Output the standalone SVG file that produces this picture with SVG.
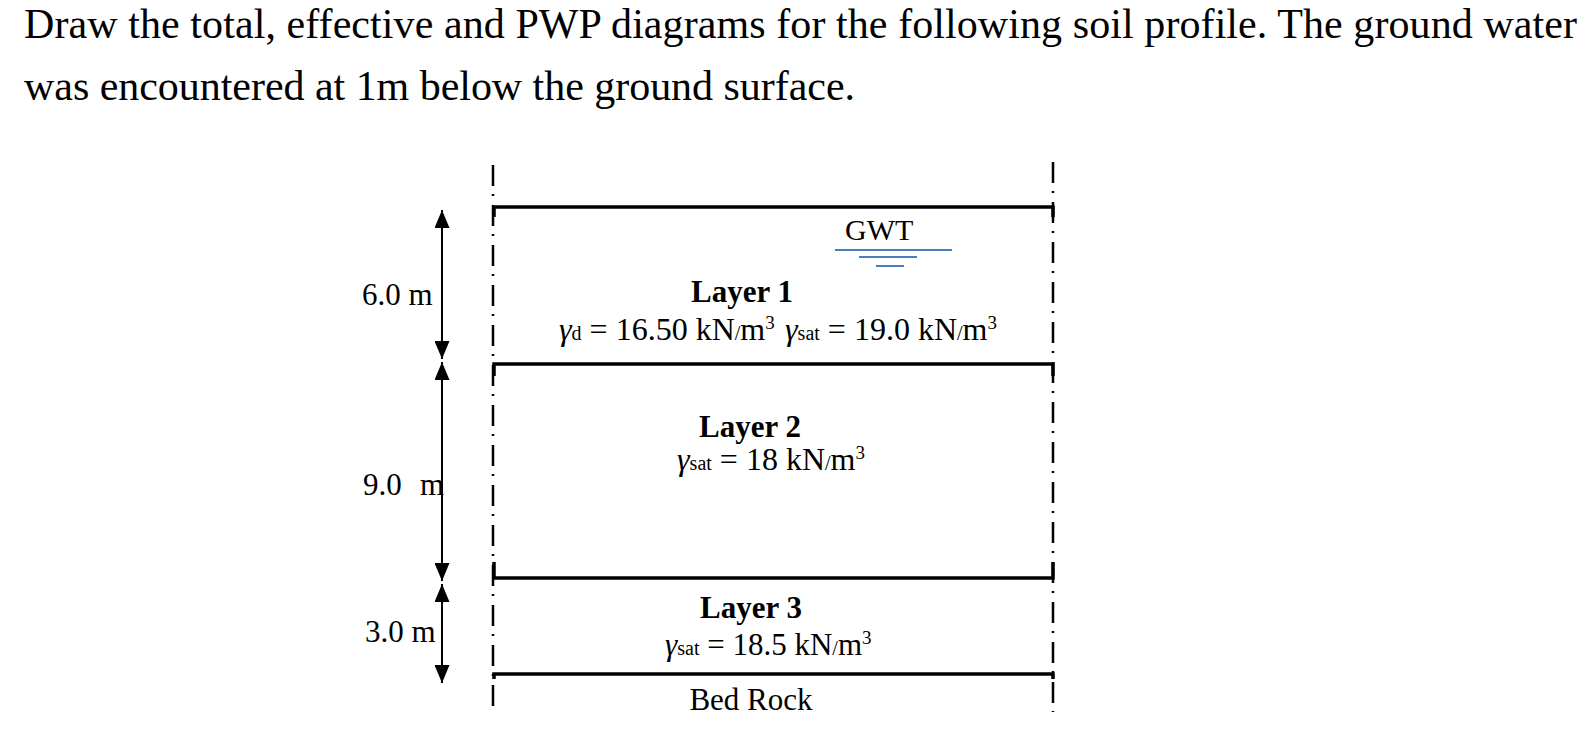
<svg xmlns="http://www.w3.org/2000/svg" width="1596" height="750" viewBox="0 0 1596 750">
<style>
  text { font-family: "Liberation Serif", "Times New Roman", serif; fill: #000; }
  .title { font-size: 42px; }
  .lbl { font-size: 31px; }
  .bold { font-size: 31px; font-weight: bold; }
  .gam { font-size: 32px; }
  .it { font-style: italic; }
  .sm { font-size: 20px; }
  .sup { font-size: 19px; }
  .bound { fill: none; stroke: #000; stroke-width: 3.5; stroke-linejoin: miter; stroke-linecap: butt; }
  .axis { fill: none; stroke: #000; stroke-width: 2.5; stroke-dasharray: 21 8 2 9; }
  .dim { fill: none; stroke: #000; stroke-width: 2; marker-start: url(#arr); marker-end: url(#arr); }
  .water { stroke: #4a7ebb; stroke-width: 2; }
</style>
<defs>
  <marker id="arr" viewBox="0 0 18 15" refX="18" refY="7.5" markerWidth="18" markerHeight="15" markerUnits="userSpaceOnUse" orient="auto-start-reverse">
    <path d="M0,0 L18,7.5 L0,15 Z" fill="#000"/>
  </marker>
</defs>
<rect width="1596" height="750" fill="#fff"/>

<g id="title">
  <text class="title" x="24" y="38" textLength="1553" lengthAdjust="spacing">Draw the total, effective and PWP diagrams for the following soil profile. The ground water</text>
  <text class="title" x="24" y="100" textLength="831" lengthAdjust="spacing">was encountered at 1m below the ground surface.</text>
</g>

<g id="axes">
  <line class="axis" x1="493" y1="165" x2="493" y2="710"/>
  <line class="axis" x1="1053" y1="162" x2="1053" y2="712"/>
</g>

<g id="boundaries">
  <path class="bound" d="M494,217 V207 H1053 V217"/>
  <path class="bound" d="M494,376 V364 H1053 V376"/>
  <path class="bound" d="M494,562 V578 H1053 V562"/>
  <path class="bound" d="M494,679 V674 H1053 V679"/>
</g>

<g id="gwt">
  <text class="lbl" x="845" y="240" style="font-size:30px">GWT</text>
  <line class="water" x1="835" y1="250" x2="952" y2="250"/>
  <line class="water" x1="859" y1="257" x2="917" y2="257"/>
  <line class="water" x1="876" y1="266" x2="904" y2="266"/>
</g>

<g id="layer1">
  <text class="bold" x="742" y="302" text-anchor="middle">Layer 1</text>
  <text class="gam" x="559" y="340"><tspan class="it">γ</tspan><tspan class="sm">d</tspan> = 16.50 kN<tspan class="sm">/</tspan>m<tspan class="sup" dy="-11">3</tspan></text>
  <text class="gam" x="785" y="340"><tspan class="it">γ</tspan><tspan class="sm">sat</tspan> = 19.0 kN<tspan class="sm">/</tspan>m<tspan class="sup" dy="-11">3</tspan></text>
</g>

<g id="layer2">
  <text class="bold" x="750" y="437" text-anchor="middle">Layer 2</text>
  <text class="gam" x="677" y="470"><tspan class="it">γ</tspan><tspan class="sm">sat</tspan> = 18 kN<tspan class="sm">/</tspan>m<tspan class="sup" dy="-11">3</tspan></text>
</g>

<g id="layer3">
  <text class="bold" x="751" y="618" text-anchor="middle">Layer 3</text>
  <text class="lbl" x="665" y="655"><tspan class="it">γ</tspan><tspan class="sm">sat</tspan> = 18.5 kN<tspan class="sm">/</tspan>m<tspan class="sup" dy="-11">3</tspan></text>
</g>

<g id="bedrock">
  <text class="lbl" x="751" y="710" text-anchor="middle">Bed Rock</text>
</g>

<g id="connectors">
  <line class="dim" x1="442" y1="210" x2="442" y2="359"/>
  <line class="dim" x1="442" y1="362" x2="442" y2="581"/>
  <line class="dim" x1="442" y1="584" x2="442" y2="683"/>
</g>

<g id="dim-labels">
  <text class="lbl" x="362" y="305">6.0 m</text>
  <text class="lbl" x="363" y="495">9.0</text>
  <text class="lbl" x="420" y="495">m</text>
  <text class="lbl" x="365" y="642">3.0 m</text>
</g>
</svg>
